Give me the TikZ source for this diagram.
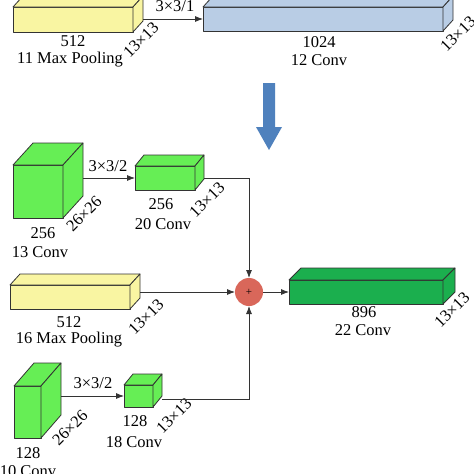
\documentclass[tikz,border=0pt]{standalone}
\usepackage{fontspec}
\setmainfont{Liberation Serif}
\usetikzlibrary{arrows.meta}
\definecolor{ylw}{HTML}{F9F5A2}
\definecolor{blu}{HTML}{B9CDE5}
\definecolor{grn}{HTML}{66EE55}
\definecolor{dgrn}{HTML}{1BAF4E}
\definecolor{redc}{HTML}{D9675A}
\definecolor{bluarrow}{HTML}{4F81BD}
\definecolor{edge}{HTML}{333333}
\tikzset{
  face/.style={draw=edge, line width=0.8pt, line join=round},
  arr/.style={draw=edge, line width=0.8pt, -{Latex[length=8pt,width=6pt]}},
  ln/.style={draw=edge, line width=0.8pt},
  lbl/.style={font=\fontsize{16.5}{19}\selectfont, inner sep=0pt},
  dim/.style={lbl, rotate=45},
}
% #1 name, #2 x1, #3 y1, #4 x2, #5 y2, #6 dx, #7 dy, #8 colour
\newcommand\cuboid[8]{%
  \node[face, fill=#8, inner sep=0pt, outer sep=0pt,
        minimum width={(#4-#2)*1pt}, minimum height={(#5-#3)*1pt}]
        (#1) at ({(#2+#4)/2},{(#3+#5)/2}) {};
  \draw[face, fill=#8] (#1.north west) -- ++(#6,-#7)
     -- ([shift={(#6,-#7)}]#1.north east) -- (#1.north east) -- cycle;
  \draw[face, fill=#8] (#1.north east) -- ++(#6,-#7)
     -- ([shift={(#6,-#7)}]#1.south east) -- (#1.south east) -- cycle;
  \coordinate (#1-r) at ({#4+#6},{(#3+#5)/2});
}
\begin{document}
\begin{tikzpicture}[x=1pt,y=-1pt]
\useasboundingbox (0,0) rectangle (474,474);
\clip (0,0) rectangle (474,474);
\fill[white] (0,0) rectangle (474,474);

% top row
\cuboid{A}{13}{7}{133}{32}{10}{11}{ylw}
\cuboid{B}{203}{7}{443}{31}{10}{11}{blu}
\draw[arr] (A-r |- B.west) -- (B.west);
\node[lbl] (lA1) at (175,6) {3×3/1};
\node[lbl] (lA2) at (73,41) {512};
\node[lbl] (lA3) at (70,60) {11 Max Pooling};
\node[dim] (lA4) at (141,40) {13×13};
\node[lbl] (lB1) at (319,42) {1024};
\node[lbl] (lB2) at (319,60) {12 Conv};
\node[dim] (lB3) at (458,34) {13×13};

% big arrow
\fill[bluarrow] (263,83) -- (275,83) -- (275,127) -- (282,127) -- (269,150)
   -- (256,127) -- (263,127) -- cycle;

% sum
\node[circle, fill=redc, minimum size=28pt, inner sep=0pt, outer sep=0pt,
      font=\fontsize{11}{11}\selectfont] (S) at (249,292) {+};

% row 1
\cuboid{C}{13}{165}{63}{218}{20}{22}{grn}
\cuboid{D}{135}{166}{195}{190}{9}{11}{grn}
\draw[arr] (C-r |- D.west) -- (D.west);
\node[lbl] (lC1) at (108,166) {3×3/2};
\node[lbl] (lC2) at (43,233) {256};
\node[lbl] (lC3) at (40,252) {13 Conv};
\node[dim] (lC4) at (84,214) {26×26};
\node[lbl] (lD1) at (161,204) {256};
\node[lbl] (lD2) at (163,224) {20 Conv};
\node[dim] (lD3) at (207,200) {13×13};
\draw[arr] (D-r |- D.west) -| (S.north);

% row 2
\cuboid{E}{10}{285}{130}{309}{10}{11}{ylw}
\draw[arr] (E-r |- S.west) -- (S.west);
\node[lbl] (lE1) at (69,322) {512};
\node[lbl] (lE2) at (69,340) {16 Max Pooling};
\node[dim] (lE3) at (146,317) {13×13};

% output
\cuboid{H}{289}{280}{443}{304}{12}{12}{dgrn}
\draw[arr] (S.east) -- (H.west);
\node[lbl] (lH1) at (364,312) {896};
\node[lbl] (lH2) at (363,330) {22 Conv};
\node[dim] (lH3) at (452,310) {13×13};

% row 3
\cuboid{F}{14}{386}{41}{438}{20}{23}{grn}
\cuboid{G}{124}{385}{153}{407}{9}{11}{grn}
\draw[arr] (F-r |- G.west) -- (G.west);
\node[lbl] (lF1) at (93,383) {3×3/2};
\node[lbl] (lF2) at (28,453) {128};
\node[lbl] (lF3) at (28,471) {10 Conv};
\node[dim] (lF4) at (70,428) {26×26};
\node[lbl] (lG1) at (135,421) {128};
\node[lbl] (lG2) at (134,442) {18 Conv};
\node[dim] (lG3) at (174,416) {13×13};
\draw[arr] ([yshift=-3pt]G-r |- G.west) -| (S.south);
\end{tikzpicture}
\end{document}
